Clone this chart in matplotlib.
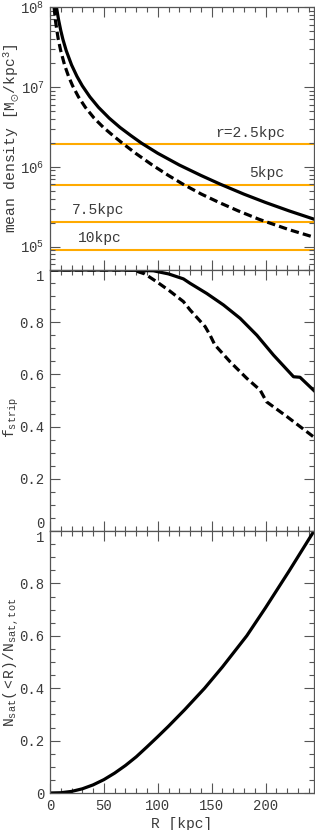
import numpy as np
import matplotlib
matplotlib.use('Agg')
import matplotlib.pyplot as plt
from matplotlib.ticker import MultipleLocator, FixedLocator, LogLocator, NullFormatter, FixedFormatter

# ---------------- data ----------------
# top panel: mean density profiles (log10 of density in Msun/kpc^3)
R_rho_solid = [6.2, 8, 10, 12, 15, 20, 25, 30, 37, 45, 55, 65, 75, 85, 100, 120, 140, 158, 180, 200, 222, 245]
logrho_solid = [7.98, 7.836, 7.705, 7.594, 7.456, 7.275, 7.132, 7.013, 6.875, 6.744, 6.608, 6.492,
                6.391, 6.295, 6.169, 6.022, 5.892, 5.782, 5.657, 5.553, 5.447, 5.344]
R_rho_dash = [3.8, 5.0, 6.4, 7.7, 9.9, 13.5, 17.2, 21.0, 26.4, 32.8, 41.0, 49.6, 58.4, 67.2, 79.4,
              94.9, 109.8, 123.4, 140.6, 156.9, 174.8, 193.7, 201, 222, 246]
logrho_dash = [8.0, 7.836, 7.705, 7.594, 7.456, 7.275, 7.132, 7.013, 6.875, 6.744, 6.608, 6.492,
               6.391, 6.295, 6.169, 6.022, 5.892, 5.782, 5.657, 5.553, 5.447, 5.344, 5.309, 5.212, 5.114]

# horizontal reference densities and their labels
ref_density = [1.92e6, 5.84e5, 2.04e5, 9.2e4]
ref_labels = ['r=2.5kpc', '5kpc', '7.5kpc', '10kpc']

# middle panel: stripped fraction
R_f_solid = [0, 65, 96, 110, 123.8, 130, 145.5, 161, 176.4, 192, 207.4, 226, 232, 246]
f_solid = [1.0, 1.0, 0.997, 0.985, 0.966, 0.949, 0.91, 0.866, 0.815, 0.75, 0.674, 0.591, 0.589, 0.534]
R_f_dash = [0, 77, 88, 99, 111, 123.8, 130, 144, 148.6, 153, 167, 182.6, 195, 201, 220, 244.5]
f_dash = [1.0, 1.0, 0.985, 0.955, 0.92, 0.879, 0.847, 0.783, 0.75, 0.713, 0.649, 0.585, 0.54, 0.495, 0.438, 0.361]

# bottom panel: cumulative satellite fraction
R_n = [0, 10, 20, 30, 40, 50, 60, 70, 80, 90, 100, 110, 125, 143.5, 160, 182.6, 200, 222, 245]
n_frac = [0, 0.001, 0.006, 0.016, 0.031, 0.051, 0.076, 0.105, 0.138, 0.176, 0.215, 0.255,
          0.318, 0.400, 0.481, 0.600, 0.707, 0.848, 1.0]

xticks_vals = [0, 50, 100, 150, 200]

# ---------------- style ----------------
plt.rcParams['font.family'] = ['Liberation Mono', 'DejaVu Sans Mono']
plt.rcParams['mathtext.fontset'] = 'custom'
plt.rcParams['mathtext.rm'] = 'Liberation Mono'
plt.rcParams['mathtext.it'] = 'Liberation Mono'
plt.rcParams['mathtext.bf'] = 'Liberation Mono'

AX_COL = '#555555'
TXT_COL = '#3a3a3a'
ORANGE = '#FFAA00'
FS_TICK = 10
FS_LAB = 10.5

fig = plt.figure(figsize=(3.15, 8.3), dpi=100)
W, H = 315.0, 830.0
L = 50 / W
WID = 264 / W
ax1 = fig.add_axes([L, 1 - 270 / H, WID, 263 / H])
ax2 = fig.add_axes([L, 1 - 531 / H, WID, 261 / H])
ax3 = fig.add_axes([L, 1 - 793 / H, WID, 262 / H])

for ax in (ax1, ax2, ax3):
    ax.set_xlim(0, 245)
    ax.xaxis.set_major_locator(MultipleLocator(50))
    ax.xaxis.set_minor_locator(MultipleLocator(10))
    ax.tick_params(which='both', direction='in', top=True, right=True,
                   color=AX_COL, labelcolor=TXT_COL, labelsize=FS_TICK, width=0.8)
    ax.tick_params(which='major', length=7, pad=4)
    ax.tick_params(which='minor', length=3.5)
    for s in ax.spines.values():
        s.set_color(AX_COL)
        s.set_linewidth(0.9)

lw = 2.3
dash = (0, (2.6, 1.3))

# ---- top panel ----
ax1.set_yscale('log')
ax1.set_ylim(5.1e4, 1e8)
ax1.plot(R_rho_solid, 10 ** np.array(logrho_solid), color='black', lw=lw)
ax1.plot(R_rho_dash, 10 ** np.array(logrho_dash), color='black', lw=lw, linestyle=dash)
for d in ref_density:
    ax1.axhline(d, color=ORANGE, lw=1.5, zorder=1)
label_pos = [(153, 10 ** 6.425), (185, 10 ** 5.925), (20.4, 10 ** 5.46), (26, 10 ** 5.11)]
for (x, y), t in zip(label_pos, ref_labels):
    ax1.text(x, y, t, fontsize=FS_LAB, color=TXT_COL, ha='left', va='center')
ax1.yaxis.set_major_locator(FixedLocator([1e5, 1e6, 1e7, 1e8]))
ax1.yaxis.set_major_formatter(FixedFormatter([r'$\mathregular{10^{5}}$', r'$\mathregular{10^{6}}$',
                                              r'$\mathregular{10^{7}}$', r'$\mathregular{10^{8}}$']))
ax1.yaxis.set_minor_locator(LogLocator(base=10, subs=np.arange(2, 10), numticks=20))
ax1.yaxis.set_minor_formatter(NullFormatter())
ax1.set_xticklabels([])
ax1.set_ylabel(r'mean density [$\mathregular{M_{\odot}/kpc^{3}}$]', fontsize=FS_LAB, color=TXT_COL)
ax1.yaxis.set_label_coords(-0.11, 0.5)

# ---- middle panel ----
ax2.set_ylim(0, 1)
ax2.plot(R_f_solid, f_solid, color='black', lw=lw)
ax2.plot(R_f_dash, f_dash, color='black', lw=lw, linestyle=dash)
ax2.yaxis.set_minor_locator(MultipleLocator(0.05))
ax2.set_yticks([0, 0.2, 0.4, 0.6, 0.8, 1.0])
ax2.set_yticklabels(['0', '0.2', '0.4', '0.6', '0.8', '1'])
ax2.set_xticklabels([])
ax2.set_ylabel(r'$\mathregular{f_{strip}}$', fontsize=FS_LAB, color=TXT_COL)
ax2.yaxis.set_label_coords(-0.11, 0.435)

# ---- bottom panel ----
ax3.set_ylim(0, 1)
ax3.plot(R_n, n_frac, color='black', lw=lw)
ax3.yaxis.set_minor_locator(MultipleLocator(0.05))
ax3.set_yticks([0, 0.2, 0.4, 0.6, 0.8, 1.0])
ax3.set_yticklabels(['0', '0.2', '0.4', '0.6', '0.8', '1'])
ax3.set_xticks(xticks_vals)
ax3.set_xticklabels([str(v) for v in xticks_vals])
ax3.set_xlabel('R [kpc]', fontsize=FS_LAB, color=TXT_COL, labelpad=3)
ax3.set_ylabel(r'$\mathregular{N_{sat}(<R)/N_{sat,tot}}$', fontsize=FS_LAB, color=TXT_COL)
ax3.yaxis.set_label_coords(-0.11, 0.5)

# shift edge tick labels to avoid overlap between panels
fig.canvas.draw()
ax2.get_yticklabels()[-1].set_va('top')
ax2.get_yticklabels()[0].set_va('bottom')
ax3.get_yticklabels()[-1].set_va('top')

fig.savefig('out.png', dpi=100)
